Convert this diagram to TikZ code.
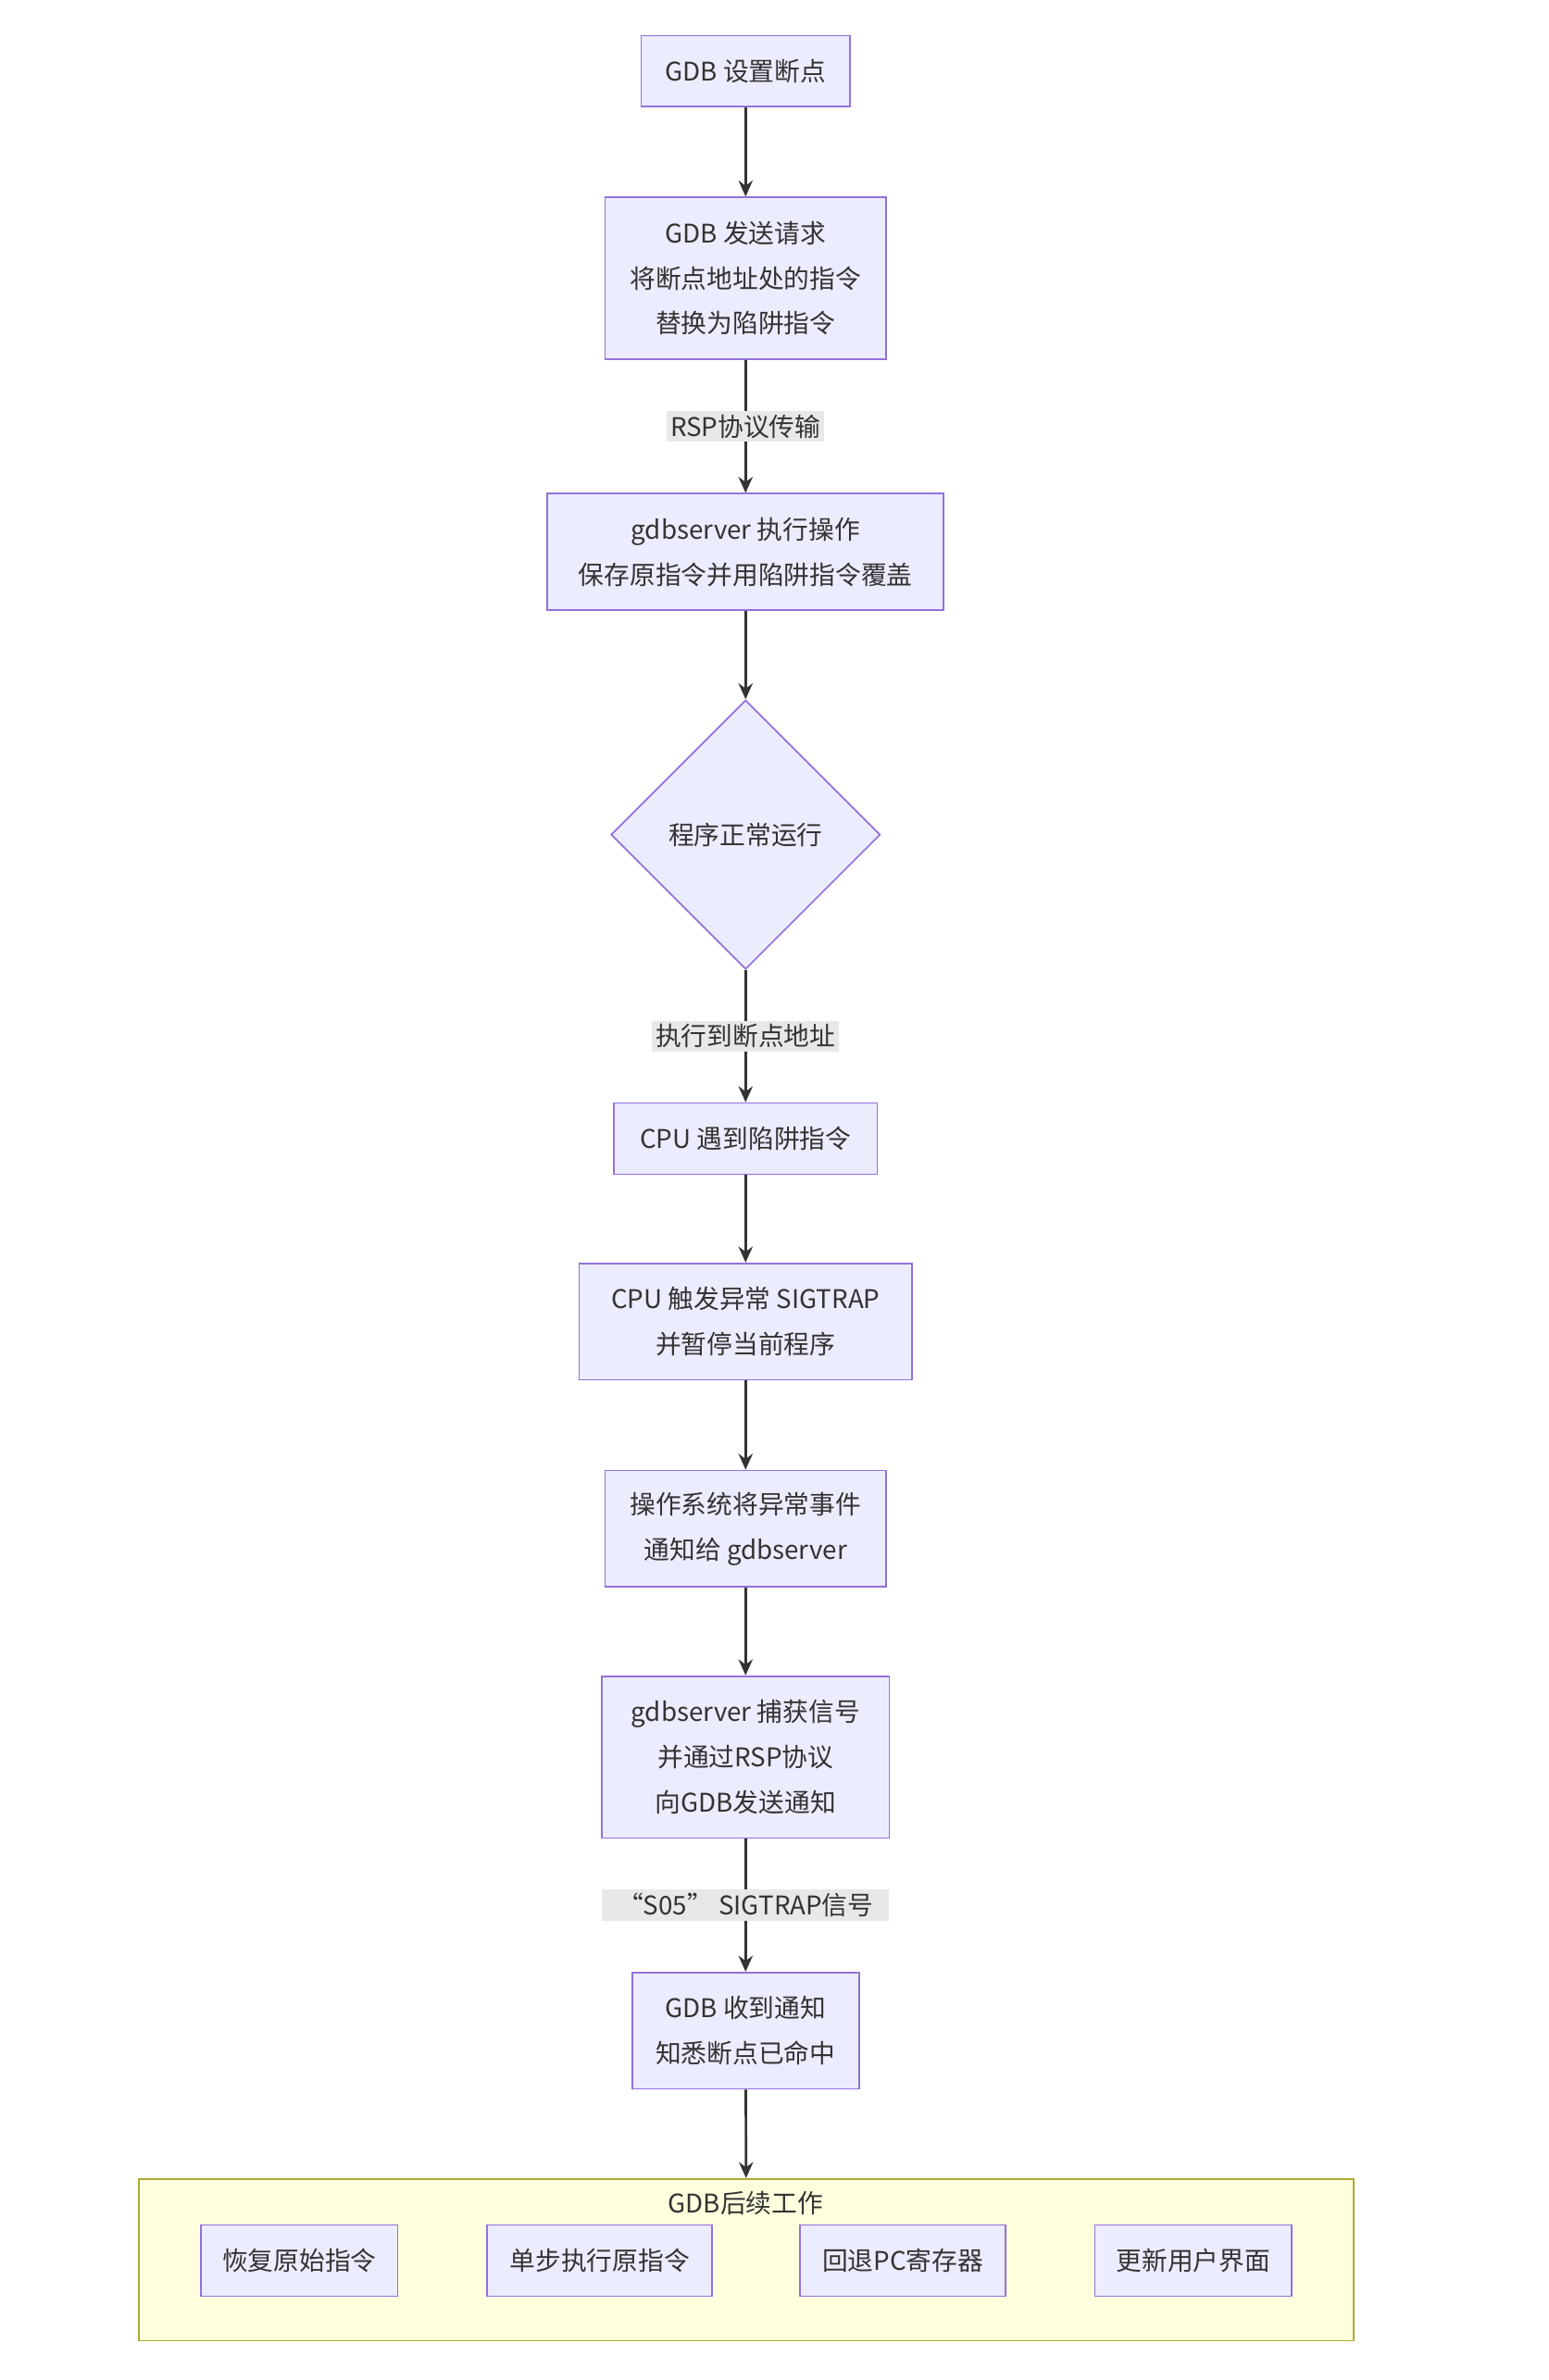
\documentclass[tikz,border=0pt]{standalone}
\usepackage{fontspec}
\setmainfont{Noto Sans CJK SC}
\usetikzlibrary{shapes.geometric, arrows.meta, positioning}
\definecolor{nodefill}{HTML}{ECECFF}
\definecolor{nodeline}{HTML}{9370DB}
\definecolor{grpfill}{HTML}{FFFFDE}
\definecolor{grpline}{HTML}{AAAA33}
\definecolor{lblfill}{HTML}{E8E8E8}
\definecolor{arrowc}{HTML}{333333}
\tikzset{
  stepbox/.style = {draw=nodeline, fill=nodefill, rectangle, line width=0.9pt, align=center, inner sep=0pt},
  check/.style = {draw=nodeline, fill=nodefill, diamond, line width=0.9pt, inner sep=0pt, minimum width=5.34cm, minimum height=5.34cm},
  edgelbl/.style = {fill=lblfill, inner sep=2pt},
  flow/.style = {->, >={Stealth[length=9pt, width=8pt]}, draw=arrowc, line width=1.4pt}
}
\begin{document}
\begin{tikzpicture}[x=0.03cm, y=-0.03cm, font=\fontsize{14.5}{25.5}\selectfont, text=arrowc]
    \useasboundingbox (0,0) rectangle (1024,1574);
    % main chain of steps
    \node [stepbox, minimum width=4.14cm, minimum height=1.41cm] (setbp) at (493,47) {GDB 设置断点};
    \node [stepbox, minimum width=5.58cm, minimum height=3.21cm] (sendreq) at (493,184) {GDB 发送请求\\将断点地址处的指令\\替换为陷阱指令};
    \node [stepbox, minimum width=7.86cm, minimum height=2.31cm] (server) at (493,365) {gdbserver 执行操作\\保存原指令并用陷阱指令覆盖};
    \node [check] (run) at (493,552) {程序正常运行};
    \node [stepbox, minimum width=5.22cm, minimum height=1.41cm] (trap) at (493,753) {CPU 遇到陷阱指令};
    \node [stepbox, minimum width=6.6cm, minimum height=2.31cm] (sigtrap) at (493,874) {CPU 触发异常 SIGTRAP\\并暂停当前程序};
    \node [stepbox, minimum width=5.58cm, minimum height=2.31cm] (notify) at (493,1011) {操作系统将异常事件\\通知给 gdbserver};
    \node [stepbox, minimum width=5.7cm, minimum height=3.21cm] (catch) at (493,1162) {gdbserver 捕获信号\\并通过RSP协议\\向GDB发送通知};
    \node [stepbox, minimum width=4.5cm, minimum height=2.31cm] (recv) at (493,1343) {GDB 收到通知\\知悉断点已命中};

    % follow-up group
    \node [draw=grpline, fill=grpfill, line width=0.9pt, rectangle, minimum width=24.09cm, minimum height=3.21cm, inner sep=0pt] (after) at (493.5,1494.5) {};
    \node [anchor=center] (aftertitle) at (493,1457) {GDB后续工作};
    \node [stepbox, minimum width=3.9cm, minimum height=1.41cm] (restore) at (198,1495) {恢复原始指令};
    \node [stepbox, minimum width=4.47cm, minimum height=1.41cm] (single) at (396.5,1495) {单步执行原指令};
    \node [stepbox, minimum width=4.08cm, minimum height=1.41cm] (rollback) at (597,1495) {回退PC寄存器};
    \node [stepbox, minimum width=3.9cm, minimum height=1.41cm] (ui) at (789,1495) {更新用户界面};

    \draw [flow] (setbp) -- (sendreq);
    \draw [flow] (sendreq) -- node [edgelbl] {RSP协议传输} (server);
    \draw [flow] (server) -- (run);
    \draw [flow] (run) -- node [edgelbl] {执行到断点地址} (trap);
    \draw [flow] (trap) -- (sigtrap);
    \draw [flow] (sigtrap) -- (notify);
    \draw [flow] (notify) -- (catch);
    \draw [flow] (catch) -- node [edgelbl, minimum width=5.7cm] {“S05” SIGTRAP信号} (recv);
    \draw [flow] (recv) -- (after);
\end{tikzpicture}
\end{document}
